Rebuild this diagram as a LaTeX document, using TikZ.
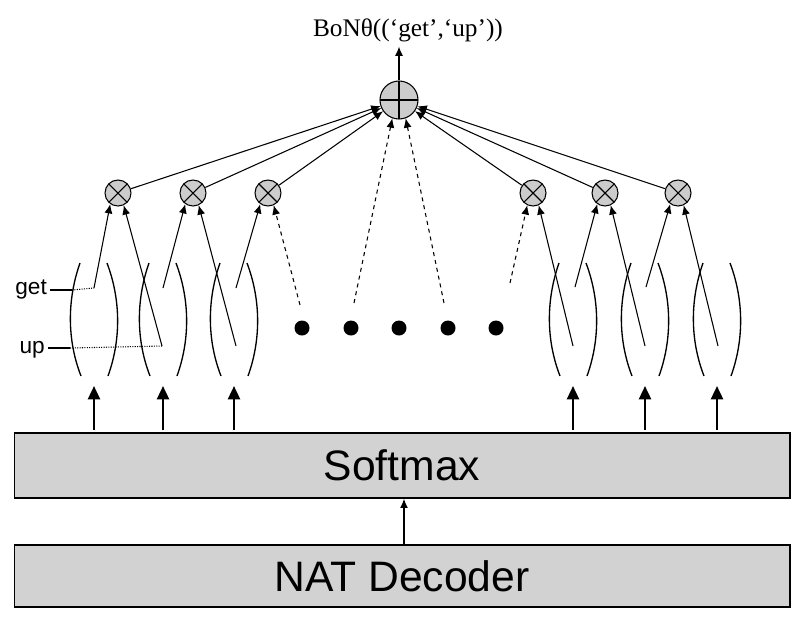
\documentclass[tikz,border=0pt]{standalone}
\usepackage{fontspec}
\setmainfont{Liberation Serif}
\newfontfamily\sans{Liberation Sans}
\usetikzlibrary{arrows.meta}
\begin{document}
\begin{tikzpicture}[x=0.0264cm,y=-0.0264cm,line width=0.8pt,
  prod/.style={circle,draw,fill=gray!40,minimum size=26*0.0264cm,inner sep=0pt,path picture={
    \draw (path picture bounding box.north west)--(path picture bounding box.south east)
          (path picture bounding box.north east)--(path picture bounding box.south west);}},
  sum/.style={circle,draw,fill=gray!40,minimum size=38*0.0264cm,inner sep=0pt,path picture={
    \draw (path picture bounding box.north)--(path picture bounding box.south)
          (path picture bounding box.east)--(path picture bounding box.west);}},
  box/.style={draw,line width=1.5pt,fill=gray!35,minimum width=775*0.0264cm,inner sep=0pt,font=\sans\fontsize{32}{36}\selectfont},
  arr/.style={-{Latex[length=7pt,width=6pt]}},
  big/.style={-{Triangle[length=10pt,width=9pt]},line width=1.8pt},
  paren/.style={line width=1pt}]
\useasboundingbox (0,0) rectangle (794,617);
% boxes
\node[box,minimum height=65*0.0264cm] (soft) at (402,465) {Softmax};
\node[box,minimum height=62*0.0264cm] (nat) at (402,576) {NAT Decoder};
\draw[arr,line width=1.3pt] (nat.north -| 404,0) -- (soft.south -| 404,0);
% sum and title
\node[sum] (s) at (399,100) {};
\node[font=\fontsize{19}{22}\selectfont] (t) at (408,30) {BoNθ((‘get’,‘up’))};
\draw[arr] (s) -- (s |- t.south);
% product nodes
\foreach \n/\x in {p1/118,p2/193,p3/268,p4/533,p5/605,p6/678}{
  \node[prod] (\n) at (\x,193) {};
  \draw[arr] (\n) -- (s);
}
% columns
\foreach \c in {94,163,234,573,645,717}{
  \draw[paren] (\c-14,263) .. controls (\c-27,300) and (\c-27,340) .. (\c-13,376);
  \draw[paren] (\c+13,263) .. controls (\c+27,300) and (\c+27,340) .. (\c+14,376);
  \coordinate (b\c) at (\c,430);
  \coordinate (e\c) at (\c,386);
  \draw[big] (b\c) -- (e\c);
}
% arrows into products
\coordinate (gp1) at (94,288); \coordinate (gp2) at (163,288); \coordinate (gp3) at (236,288);
\coordinate (u1) at (162,346); \coordinate (u2) at (236,346);
\coordinate (u4) at (573,346); \coordinate (u5) at (645,346); \coordinate (u6) at (718,346);
\coordinate (g5) at (575,287); \coordinate (g6) at (646,287);
\draw[arr] (gp1) -- (p1.235);
\draw[arr] (u1) -- (p1.295);
\draw[arr] (gp2) -- (p2.235);
\draw[arr] (u2) -- (p2.295);
\draw[arr] (gp3) -- (p3.235);
\coordinate (d3) at (300,305); \coordinate (d4) at (510,283);
\draw[arr,dashed] (d3) -- (p3.295);
\draw[arr,dashed] (d4) -- (p4.245);
\draw[arr] (u4) -- (p4.295);
\draw[arr] (g5) -- (p5.235);
\draw[arr] (u5) -- (p5.295);
\draw[arr] (g6) -- (p6.235);
\draw[arr] (u6) -- (p6.295);
% dots
\foreach \x in {302,351,399,448,496} \fill (\x,328) circle (7.5);
\coordinate (dl) at (354,303); \coordinate (dr) at (444,303);
\draw[arr,dashed] (dl) -- (s.250);
\draw[arr,dashed] (dr) -- (s.290);
% labels
\node[font=\sans\fontsize{17}{20}\selectfont,anchor=east,inner sep=2pt] (lg) at (50,290) {get};
\node[font=\sans\fontsize{17}{20}\selectfont,anchor=east,inner sep=2pt] (lu) at (48,350) {up};
\coordinate (lg1) at (72,290); \coordinate (lu1) at (70,348);
\draw (lg.east) -- (lg1); \draw[densely dotted] (lg1) -- (gp1);
\draw (lu.east |- lu1) -- (lu1); \draw[densely dotted] (lu1) -- (u1);
\end{tikzpicture}
\end{document}
